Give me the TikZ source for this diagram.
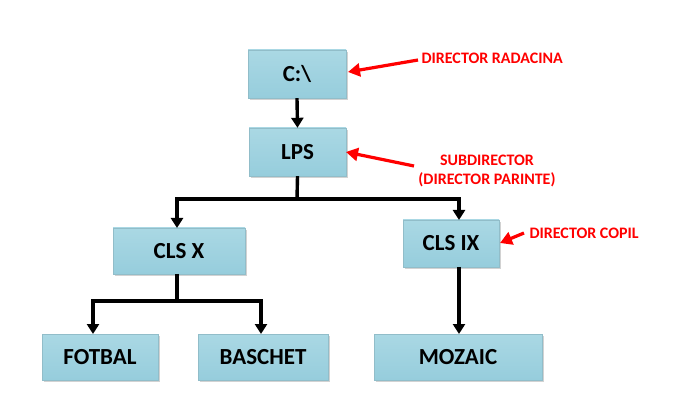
\documentclass[tikz,border=0pt]{standalone}
\usepackage{fontspec}
\setmainfont{Carlito}
\usetikzlibrary{arrows.meta,shadows}
\definecolor{bA}{RGB}{170,216,228}
\definecolor{bB}{RGB}{225,242,247}
\definecolor{bC}{RGB}{150,205,220}
\begin{document}
\begin{tikzpicture}[x=1pt,y=-1pt,
 box/.style={draw=bC!80!gray,top color=bA,middle color=bB,bottom color=bC,
   drop shadow={opacity=0.35,shadow xshift=2pt,shadow yshift=-2pt},
   font=\fontsize{23}{25}\selectfont\bfseries,inner sep=0pt},
 con/.style={line width=3.4pt,-{Triangle[length=10pt,width=12pt]}},
 ln/.style={line width=3.4pt},
 red/.style={draw=red,line width=3.2pt,-{Triangle[length=12pt,width=13pt]}},
 lab/.style={text=red,font=\fontsize{16}{19}\selectfont\bfseries,align=center}]
\useasboundingbox[fill=white] (0,0) rectangle (681,417);
\node[box,minimum width=98pt,minimum height=48pt] (c) at (297,74) {C:\textbackslash};
\node[box,minimum width=97pt,minimum height=48pt] (lps) at (297.5,152) {LPS};
\node[box,minimum width=132pt,minimum height=46pt] (clsx) at (179,251) {CLS X};
\node[box,minimum width=96pt,minimum height=47pt] (clsix) at (451,243.5) {CLS IX};
\node[box,minimum width=116pt,minimum height=46pt] (fot) at (100,357) {FOTBAL};
\node[box,minimum width=130pt,minimum height=46pt] (bas) at (263,357) {BASCHET};
\node[box,minimum width=168pt,minimum height=46pt] (moz) at (458,357) {MOZAIC};
\coordinate (j1) at (297,199);
\coordinate (j2) at (177,301);
\draw[con] (c.south) -- (lps.north);
\draw[ln] (lps.south) -- (j1);
\draw[con] (j1) -| (177,228);
\draw[con] (j1) -| (459,220);
\draw[ln] (177,274) -- (j2);
\draw[con] (j2) -| (93,334);
\draw[con] (j2) -| (261,334);
\draw[con] (459,267) -- (459,334);
\node[lab,anchor=west] (l1) at (418,58) {DIRECTOR RADACINA};
\node[lab] (l2) at (487,171) {SUBDIRECTOR\\ (DIRECTOR PARINTE)};
\node[lab,anchor=west] (l3) at (526,233) {DIRECTOR COPIL};
\draw[red] (418,60) -- (348,72);
\draw[red] (414,166) -- (346,152);
\draw[red] (524,233) -- (500,243);
\end{tikzpicture}
\end{document}
